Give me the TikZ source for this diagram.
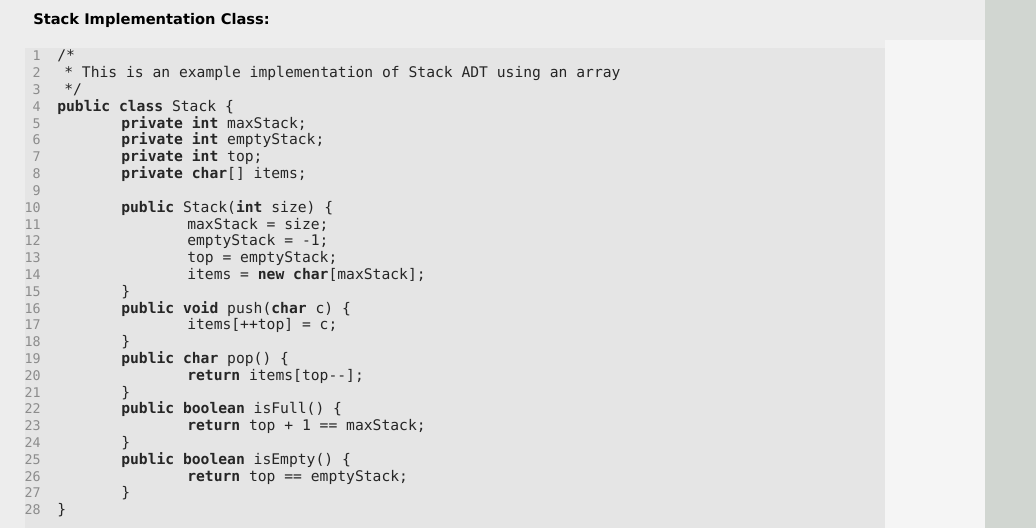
\documentclass[tikz,border=0pt]{standalone}
\usepackage{fontspec}
\setmainfont{DejaVu Sans}
\newfontfamily\codefont{DejaVu Sans Mono}
\begin{document}
\begin{tikzpicture}[x=0.75pt,y=-0.75pt,
  code/.style={anchor=base west,inner sep=0pt,font=\codefont\fontsize{11}{12}\selectfont,text=black!85},
  num/.style={anchor=base east,inner sep=0pt,font=\codefont\fontsize{10}{12}\selectfont,text=black!45}]
\useasboundingbox (0,0) rectangle (1036,528);
\fill[black!7] (0,0) rectangle (1036,528);
\fill[black!4] (885,40) rectangle (985,528);
\fill[black!10] (25,48) rectangle (885,528);
\fill[green!10!black!18] (985,0) rectangle (1036,528);
\node[anchor=base west,inner sep=0pt,font=\bfseries\fontsize{11}{13}\selectfont] (title) at (33,25) {Stack Implementation Class:};
\foreach \i in {1,...,28} { \node[num] (n\i) at (41,{61+(\i-1)*16.8}) {\i}; }
\def\Y#1{{61+(#1-1)*16.8}}
\node[code] (l1) at (57,\Y1) {/*};
\node[code] (l2) at (64,\Y2) {* This is an example implementation of Stack ADT using an array};
\node[code] (l3) at (64,\Y3) {*/};
\node[code] (l4) at (57,\Y4) {\textbf{public class} Stack \{};
\node[code] (l5) at (121,\Y5) {\textbf{private int} maxStack;};
\node[code] (l6) at (121,\Y6) {\textbf{private int} emptyStack;};
\node[code] (l7) at (121,\Y7) {\textbf{private int} top;};
\node[code] (l8) at (121,\Y8) {\textbf{private char}[] items;};
\node[code] (l10) at (121,\Y{10}) {\textbf{public} Stack(\textbf{int} size) \{};
\node[code] (l11) at (187,\Y{11}) {maxStack = size;};
\node[code] (l12) at (187,\Y{12}) {emptyStack = -1;};
\node[code] (l13) at (187,\Y{13}) {top = emptyStack;};
\node[code] (l14) at (187,\Y{14}) {items = \textbf{new char}[maxStack];};
\node[code] (l15) at (121,\Y{15}) {\}};
\node[code] (l16) at (121,\Y{16}) {\textbf{public void} push(\textbf{char} c) \{};
\node[code] (l17) at (187,\Y{17}) {items[++top] = c;};
\node[code] (l18) at (121,\Y{18}) {\}};
\node[code] (l19) at (121,\Y{19}) {\textbf{public char} pop() \{};
\node[code] (l20) at (187,\Y{20}) {\textbf{return} items[top-{}-];};
\node[code] (l21) at (121,\Y{21}) {\}};
\node[code] (l22) at (121,\Y{22}) {\textbf{public boolean} isFull() \{};
\node[code] (l23) at (187,\Y{23}) {\textbf{return} top + 1 == maxStack;};
\node[code] (l24) at (121,\Y{24}) {\}};
\node[code] (l25) at (121,\Y{25}) {\textbf{public boolean} isEmpty() \{};
\node[code] (l26) at (187,\Y{26}) {\textbf{return} top == emptyStack;};
\node[code] (l27) at (121,\Y{27}) {\}};
\node[code] (l28) at (57,\Y{28}) {\}};
\end{tikzpicture}
\end{document}
